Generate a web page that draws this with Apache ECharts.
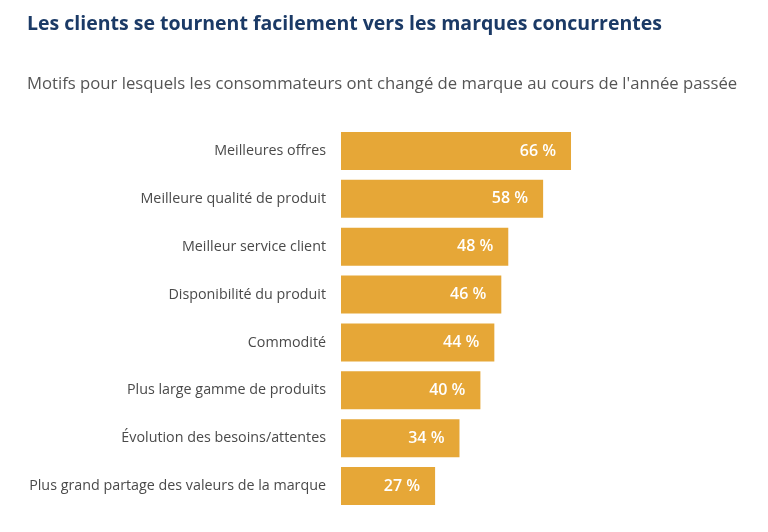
<!DOCTYPE html>
<html>
<head>
<meta charset="utf-8">
<script src="https://cdn.jsdelivr.net/npm/echarts@6/dist/echarts.min.js"></script>
<style>html,body{margin:0;padding:0;background:#fff}#c{width:768px;height:532px}</style>
</head>
<body>
<div id="c"></div>
<script>
const categories = [
  "Meilleures offres",
  "Meilleure qualité de produit",
  "Meilleur service client",
  "Disponibilité du produit",
  "Commodité",
  "Plus large gamme de produits",
  "Évolution des besoins/attentes",
  "Plus grand partage des valeurs de la marque"
];
const values = [66, 58, 48, 46, 44, 40, 34, 27];
const titleText = "Les clients se tournent facilement vers les marques concurrentes";
const subtitleText = "Motifs pour lesquels les consommateurs ont changé de marque au cours de l'année passée";

const chart = echarts.init(document.getElementById('c'));
chart.setOption({
  animation: false,
  backgroundColor: '#ffffff',
  title: [
    { text: titleText, left: 27, top: 14, padding: 0,
      textStyle: { fontFamily: 'Open Sans', fontSize: 19.5, fontWeight: 'bold', color: '#1b3a66' } },
    { text: subtitleText, left: 27, top: 76, padding: 0,
      textStyle: { fontFamily: 'Open Sans', fontSize: 16.7, fontWeight: 'normal', color: '#555555' } }
  ],
  grid: { left: 341, top: 127, width: 348.5, height: 383 },
  xAxis: { type: 'value', min: 0, max: 100, show: false },
  yAxis: {
    type: 'category', data: categories, inverse: true,
    axisLine: { show: false }, axisTick: { show: false },
    axisLabel: { margin: 15, fontFamily: 'Open Sans', fontSize: 14.3, color: '#4a4a4a' }
  },
  series: [{
    type: 'bar', data: values, barWidth: 38,
    itemStyle: { color: '#e6a737' },
    label: {
      show: true, position: 'insideRight', distance: 15,
      formatter: p => p.value + ' %',
      fontFamily: 'Open Sans', fontSize: 16, fontWeight: 600, color: '#ffffff'
    }
  }]
});
</script>
</body>
</html>
